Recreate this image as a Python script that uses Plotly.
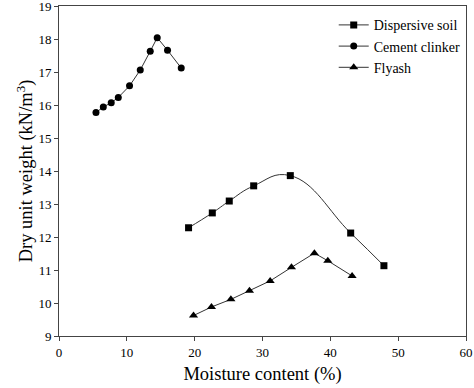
import plotly.graph_objects as go

# Data
disp_x = [19.1, 22.6, 25.1, 28.7, 34.1, 43.0, 47.9]
disp_y = [12.28, 12.73, 13.09, 13.55, 13.86, 12.12, 11.13]

clinker_x = [5.45, 6.53, 7.70, 8.74, 10.40, 11.98, 13.45, 14.48, 16.0, 18.02]
clinker_y = [15.77, 15.94, 16.07, 16.23, 16.58, 17.06, 17.63, 18.04, 17.66, 17.12]

fly_x = [19.83, 22.48, 25.34, 28.08, 31.13, 34.27, 37.65, 39.63, 43.21]
fly_y = [9.62, 9.88, 10.11, 10.37, 10.67, 11.08, 11.51, 11.28, 10.82]

x_ticks = [0, 10, 20, 30, 40, 50, 60]
y_ticks = [9, 10, 11, 12, 13, 14, 15, 16, 17, 18, 19]

FONT = "Liberation Serif, Times New Roman, serif"
LINE = "#333333"

fig = go.Figure()
fig.add_trace(go.Scatter(
    x=disp_x, y=disp_y, name="Dispersive soil", mode="lines+markers",
    line=dict(color=LINE, width=1, shape="spline", smoothing=1.3),
    marker=dict(symbol="square", size=7, color="black")))
fig.add_trace(go.Scatter(
    x=clinker_x, y=clinker_y, name="Cement clinker", mode="lines+markers",
    line=dict(color=LINE, width=1),
    marker=dict(symbol="circle", size=7, color="black")))
fig.add_trace(go.Scatter(
    x=fly_x, y=fly_y, name="Flyash", mode="lines+markers",
    line=dict(color=LINE, width=1),
    marker=dict(symbol="triangle-up", size=8, color="black")))

fig.update_layout(
    template="none",
    width=474, height=388,
    margin=dict(l=59, r=8, t=6, b=52),
    paper_bgcolor="white", plot_bgcolor="white",
    font=dict(family=FONT, color="black", size=13),
    showlegend=True,
    legend=dict(x=0.675, y=0.99, xanchor="left", yanchor="top",
                bgcolor="rgba(0,0,0,0)", font=dict(size=14, family=FONT),
                tracegroupgap=0, itemwidth=30),
    xaxis=dict(range=[0, 60], tickvals=x_ticks, ticks="outside", ticklen=4,
               showline=True, linecolor="#444", linewidth=1, mirror=True,
               showgrid=False, zeroline=False, automargin=False,
               ticklabeloverflow="allow",
               title=dict(text="Moisture content (%)", font=dict(size=18.5), standoff=8),
               tickfont=dict(size=13)),
    yaxis=dict(range=[9, 19], tickvals=y_ticks, ticks="outside", ticklen=4,
               showline=True, linecolor="#444", linewidth=1, mirror=True,
               showgrid=False, zeroline=False, automargin=False,
               ticklabeloverflow="allow",
               title=dict(text="Dry unit weight (kN/m<sup>3</sup>)", font=dict(size=18.5), standoff=0),
               tickfont=dict(size=13)),
)

fig.write_html("out.html", config={"displayModeBar": False},
               post_script="document.body.style.margin='0';document.body.style.overflow='hidden';")
